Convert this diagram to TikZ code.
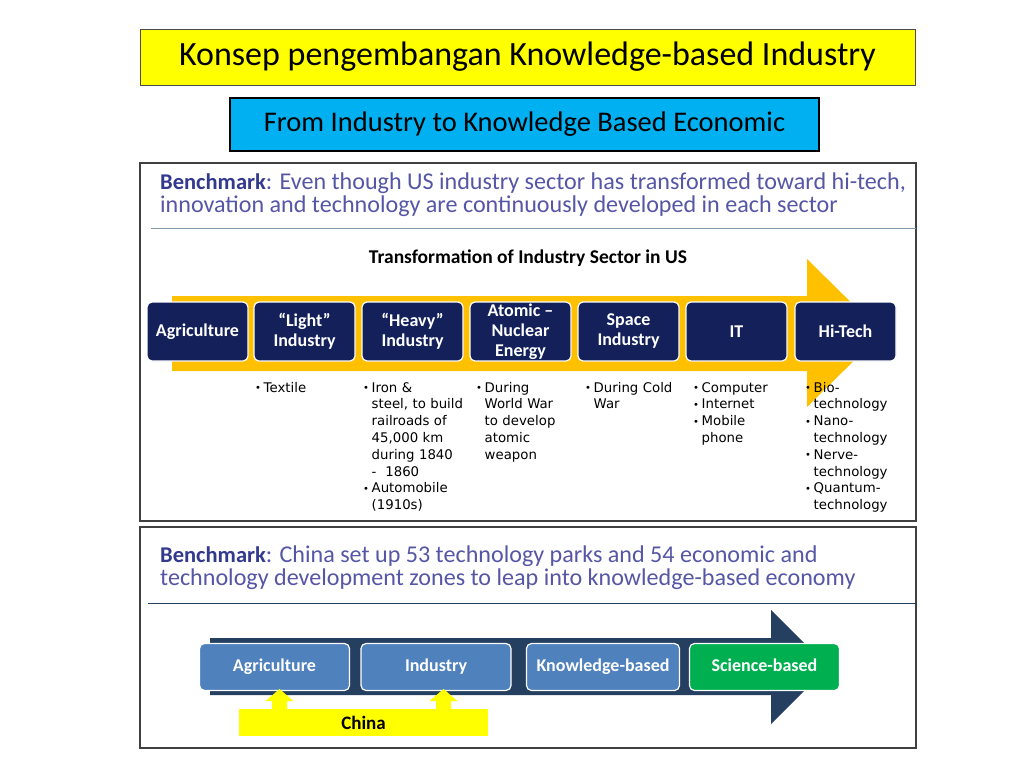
\documentclass[tikz,border=0pt]{standalone}
\usepackage{fontspec}
\setmainfont{Carlito}
\newfontfamily\bulletfont{DejaVu Sans}
\usepackage{xcolor}
\usepackage{tikz}
\usetikzlibrary{positioning}

\definecolor{titleyellow}{HTML}{FFFF00}
\definecolor{subcyan}{HTML}{00B0F0}
\definecolor{usnavy}{HTML}{13205A}
\definecolor{usgold}{HTML}{FFC000}
\definecolor{benchdark}{HTML}{333A8E}
\definecolor{benchtext}{HTML}{5656A6}
\definecolor{rulegray}{HTML}{8399B0}
\definecolor{cnnavy}{HTML}{243F60}
\definecolor{cnblue}{HTML}{4F81BD}
\definecolor{cngreen}{HTML}{00B050}

\newcommand{\bitem}{\par\noindent\hangindent=8.5pt\hangafter=1%
  \makebox[8.5pt][l]{\fontsize{10}{10}\selectfont\raisebox{0.5pt}{•}}}
\newcommand{\benchword}{{\fontsize{22.5}{24}\selectfont\bfseries\color{benchdark}Benchmark}}

\tikzset{
  titlebox/.style={fill=titleyellow,draw=black!70,line width=0.8pt,inner sep=0pt,
    minimum width=775,minimum height=56,font=\fontsize{34}{36}\selectfont},
  subbox/.style={fill=subcyan,draw=black,line width=1.6pt,inner sep=0pt,
    minimum width=589,minimum height=53,font=\fontsize{28.5}{30}\selectfont},
  panel/.style={draw=black!75,line width=1.2pt},
  benchline/.style={anchor=base west,inner sep=0pt,text=benchtext,
    font=\fontsize{24.1}{26}\selectfont},
  usbox/.style={fill=usnavy,draw=white,line width=1.2pt,rounded corners=5pt,
    minimum width=101,minimum height=59,inner sep=0pt,text=white,align=center,
    font=\fontsize{18}{20}\selectfont\bfseries},
  cnbox/.style={fill=cnblue,draw=white,line width=1.2pt,rounded corners=5pt,
    minimum width=150,minimum height=47,inner sep=0pt,text=white,
    text height=13,text depth=4,
    font=\fontsize{18}{20}\selectfont\bfseries},
  bullets/.style={anchor=north west,inner sep=0pt,text width=110pt,align=left,
    font=\bulletfont\fontsize{13.3}{16.8}\selectfont},
}

\begin{document}
\begin{tikzpicture}[x=1pt,y=-1pt]
        \useasboundingbox (0,0) rectangle (1024,768);
        \fill[white] (0,0) rectangle (1024,768);
        % headings
        \node[titlebox] (title) at (527.5,57) {Konsep pengembangan Knowledge-based Industry};
        \node[subbox] (subtitle) at (524.5,124.5) {From Industry to Knowledge Based Economic};

        % ---- US panel
        \draw[panel] (140,163) rectangle (916,521);
        \node[benchline] (usbench1) at (160,189.5)
          {\benchword: Even though US industry sector has transformed toward hi-tech,};
        \node[benchline] (usbench2) at (160,212.5)
          {innovation and technology are continuously developed in each sector};
        \draw[rulegray,line width=1pt] (151,228) -- (916,228);
        \node[font=\fontsize{19.5}{21}\selectfont\bfseries] (ustitle) at (528,258)
          {Transformation of Industry Sector in US};
        % gold arrow behind the boxes
        \fill[usgold] (172,296) -- (807,296) -- (807,259) -- (882,333)
          -- (807,407) -- (807,371) -- (172,371) -- cycle;
        \foreach \n/\x/\t in {Agri/197.5/Agriculture,
                              Light/304.5/{“Light”\\Industry},
                              Heavy/412.5/{“Heavy”\\Industry},
                              Atomic/520.5/{Atomic –\\Nuclear\\Energy},
                              Space/628.5/{Space\\Industry},
                              IT/736.5/IT,
                              HiTech/845.5/Hi-Tech}
          {\node[usbox] (us\n) at (\x,331.5) {\t};}
        % bullet lists under the sectors
        \node[bullets] (txtLight) at (255,375) {\bitem Textile\par};
        \node[bullets] (txtHeavy) at (363,375)
          {\bitem Iron \&\newline steel, to build\newline railroads of\newline 45,000 km\newline
           during 1840\newline -~ 1860
           \bitem Automobile\newline (1910s)\par};
        \node[bullets] (txtAtomic) at (476,375)
          {\bitem During\newline World War\newline to develop\newline atomic\newline weapon\par};
        \node[bullets] (txtSpace) at (585,375) {\bitem During Cold\newline War\par};
        \node[bullets] (txtIT) at (693,375)
          {\bitem Computer \bitem Internet \bitem Mobile\newline phone\par};
        \node[bullets] (txtHiTech) at (805,375)
          {\bitem Bio-\newline technology \bitem Nano-\newline technology
           \bitem Nerve-\newline technology \bitem Quantum-\newline technology\par};

        % ---- China panel
        \draw[panel] (140,527) rectangle (916,748);
        \node[benchline] (cnbench1) at (160,562)
          {\benchword: China set up 53 technology parks and 54 economic and};
        \node[benchline] (cnbench2) at (160,585)
          {technology development zones to leap into knowledge-based economy};
        \draw[cnnavy,line width=1pt] (148,603.5) -- (916,603.5);
        % navy arrow behind the boxes
        \fill[cnnavy] (210,638) -- (771,638) -- (771,610) -- (828,667)
          -- (771,724) -- (771,695) -- (210,695) -- cycle;
        \node[cnbox] (cnAgri) at (274.5,667) {Agriculture};
        \node[cnbox] (cnIndustry) at (436,667) {Industry};
        \node[cnbox,minimum width=153] (cnKnow) at (603,667) {Knowledge-based};
        \node[cnbox,fill=cngreen] (cnScience) at (764.5,667) {Science-based};
        % china marker with up arrows
        \node[fill=titleyellow,minimum width=249,minimum height=27,inner sep=0pt,
          font=\fontsize{19}{20}\selectfont\bfseries] (china) at (363.5,722.5) {China};
        \foreach \x in {279.5,443.5}
          {\fill[titleyellow] (\x-7.5,709) -- (\x-7.5,701) -- (\x-14,701) -- (\x,689)
             -- (\x+14,701) -- (\x+7.5,701) -- (\x+7.5,709) -- cycle;}
\end{tikzpicture}
\end{document}
